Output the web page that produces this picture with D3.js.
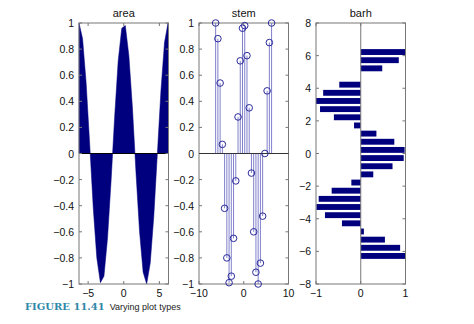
<!DOCTYPE html>
<html><head><meta charset="utf-8">
<script src="https://cdn.jsdelivr.net/npm/d3@7"></script>
<style>body{margin:0;background:#fff}svg{display:block}</style>
</head><body>
<script>
// Data
const xVals = [-6.28,-5.78,-5.28,-4.78,-4.28,-3.78,-3.28,-2.78,-2.28,-1.78,-1.28,-0.78,-0.28,0.22,0.72,1.22,1.72,2.22,2.72,3.22,3.72,4.22,4.72,5.22,5.72,6.22];
const yVals = [1.00,0.88,0.54,0.07,-0.42,-0.80,-0.99,-0.94,-0.65,-0.21,0.28,0.71,0.96,0.98,0.75,0.35,-0.15,-0.60,-0.91,-1.00,-0.84,-0.48,0.00,0.48,0.85,1.00];
const titles = ["area","stem","barh"];
const areaXTicks = [-5,0,5];
const stemXTicks = [-10,0,10];
const barhXTicks = [-1,0,1];
const unitYTicks = [-1,-0.8,-0.6,-0.4,-0.2,0,0.2,0.4,0.6,0.8,1];
const barhYTicks = [-8,-6,-4,-2,0,2,4,6,8];

const W = 474, H = 324;
const svg = d3.select("body").append("svg").attr("width", W).attr("height", H);
const plotTop = 23, plotBottom = 284;
const panels = [{l:79,r:168.5},{l:199,r:288.5},{l:316,r:405.5}];
const navy = "#00007f";
const axisCol = "#777";
const fontF = "Liberation Sans, Arial, sans-serif";

function fmt(v){ return v === 0 ? "0" : (String(v).replace("-", "\u2212")); }

function drawAxes(g, x, y, xt, yt, title, p){
  const t = 3;
  g.append("rect").attr("x", p.l).attr("y", plotTop).attr("width", p.r-p.l).attr("height", plotBottom-plotTop)
    .attr("fill","none").attr("stroke", axisCol).attr("stroke-width",1);
  xt.forEach(v=>{
    const xx = x(v);
    g.append("line").attr("x1",xx).attr("x2",xx).attr("y1",plotBottom).attr("y2",plotBottom-t).attr("stroke",axisCol);
    g.append("line").attr("x1",xx).attr("x2",xx).attr("y1",plotTop).attr("y2",plotTop+t).attr("stroke",axisCol);
    g.append("text").attr("x",xx).attr("y",plotBottom+13).attr("text-anchor","middle")
      .attr("font-family",fontF).attr("font-size",10.5).attr("fill","#111").text(fmt(v));
  });
  yt.forEach(v=>{
    const yy = y(v);
    g.append("line").attr("x1",p.l).attr("x2",p.l+t).attr("y1",yy).attr("y2",yy).attr("stroke",axisCol);
    g.append("line").attr("x1",p.r).attr("x2",p.r-t).attr("y1",yy).attr("y2",yy).attr("stroke",axisCol);
    g.append("text").attr("x",p.l-5).attr("y",yy+4).attr("text-anchor","end")
      .attr("font-family",fontF).attr("font-size",10.5).attr("fill","#111").text(fmt(v));
  });
  g.append("text").attr("x",(p.l+p.r)/2).attr("y",plotTop-6).attr("text-anchor","middle")
    .attr("font-family",fontF).attr("font-size",11).attr("fill","#111").text(title);
}

// ---- area ----
{
  const p = panels[0];
  const x = d3.scaleLinear().domain([-6.2832, 6.2832]).range([p.l, p.r]);
  const y = d3.scaleLinear().domain([-1,1]).range([plotBottom, plotTop]);
  const g = svg.append("g");
  const data = xVals.map((v,i)=>({x:v,y:yVals[i]}));
  g.append("path").datum(data)
    .attr("d", d3.area().x(d=>x(d.x)).y0(y(0)).y1(d=>y(d.y)))
    .attr("fill", navy).attr("stroke", navy).attr("stroke-width",0.5);
  g.append("line").attr("x1",p.l).attr("x2",p.r).attr("y1",y(0)).attr("y2",y(0)).attr("stroke","#000").attr("stroke-width",1);
  drawAxes(g, x, y, areaXTicks, unitYTicks, titles[0], p);
}
// ---- stem ----
{
  const p = panels[1];
  const x = d3.scaleLinear().domain([-10,10]).range([p.l, p.r]);
  const y = d3.scaleLinear().domain([-1,1]).range([plotBottom, plotTop]);
  const g = svg.append("g");
  drawAxes(g, x, y, stemXTicks, unitYTicks, titles[1], p);
  xVals.forEach((v,i)=>{
    g.append("line").attr("x1",x(v)).attr("x2",x(v)).attr("y1",y(0)).attr("y2",y(yVals[i]))
      .attr("stroke","#8080cc").attr("stroke-width",1);
  });
  g.append("line").attr("x1",p.l).attr("x2",p.r).attr("y1",y(0)).attr("y2",y(0)).attr("stroke","#333").attr("stroke-width",1);
  xVals.forEach((v,i)=>{
    g.append("circle").attr("cx",x(v)).attr("cy",y(yVals[i])).attr("r",3.3)
      .attr("fill","none").attr("stroke","#2a2a9a").attr("stroke-width",1);
  });
}
// ---- barh ----
{
  const p = panels[2];
  const x = d3.scaleLinear().domain([-1,1]).range([p.l, p.r]);
  const y = d3.scaleLinear().domain([-8,8]).range([plotBottom, plotTop]);
  const g = svg.append("g");
  const bh = Math.abs(y(0.5*0.72) - y(0));
  xVals.forEach((v,i)=>{
    const val = yVals[i];
    g.append("rect").attr("x", Math.min(x(0), x(val))).attr("width", Math.abs(x(val)-x(0)))
      .attr("y", y(v)-bh/2).attr("height", bh).attr("fill", navy);
  });
  g.append("line").attr("x1",x(0)).attr("x2",x(0)).attr("y1",plotTop).attr("y2",plotBottom).attr("stroke",axisCol).attr("stroke-width",1);
  drawAxes(g, x, y, barhXTicks, barhYTicks, titles[2], p);
}
// caption
const cap = svg.append("text").attr("x",25).attr("y",310);
cap.append("tspan").attr("font-family","DejaVu Serif, serif").attr("font-weight","bold").attr("font-size",10)
  .attr("fill","#2f88a8").text("FIGURE 11.41");
cap.append("tspan").attr("dx",5).attr("font-family",fontF).attr("font-size",9).attr("fill","#222").text("Varying plot types");
</script>
</body></html>
